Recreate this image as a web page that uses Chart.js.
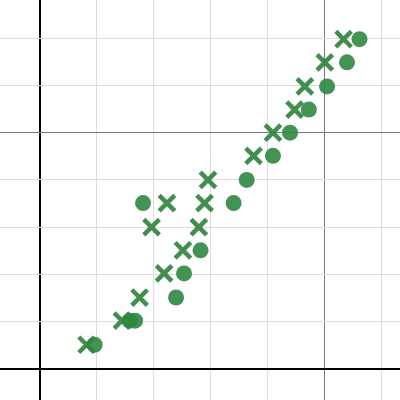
<!DOCTYPE html>
<html><head><meta charset="utf-8">
<script src="https://cdn.jsdelivr.net/npm/chart.js@4"></script>
<style>html,body{margin:0;padding:0;background:#fff}#w{width:400px;height:400px}</style>
</head><body><div id="w"><canvas id="c"></canvas></div>
<script>
const circleX=[0.96,1.58,1.67,1.81,2.39,2.53,2.82,3.40,3.63,4.09,4.39,4.72,5.04,5.39,5.61];
const circleY=[0.51,1.02,1.02,3.51,1.51,2.02,2.51,3.51,4.0,4.51,5.0,5.49,5.98,6.49,6.98];
const crossX=[0.82,1.44,1.75,1.96,2.23,2.18,2.51,2.79,2.89,2.95,3.75,4.09,4.47,4.65,5.0,5.33];
const crossY=[0.51,1.02,1.51,3.0,3.51,2.02,2.51,3.0,3.51,4.0,4.51,5.0,5.49,5.98,6.49,6.98];
const xTicks=[0,1,2,3,4,5,6];
const yTicks=[0,1,2,3,4,5,6,7];
const pts=(xs,ys)=>xs.map((x,i)=>({x,y:ys[i]}));
function gridColor(ctx){const v=ctx.tick&&ctx.tick.value;if(v===0)return '#000';if(v===5)return '#777';return '#ddd';}
function gridWidth(ctx){const v=ctx.tick&&ctx.tick.value;return v===0?2:1;}
new Chart(document.getElementById('c'),{type:'scatter',
data:{datasets:[
{data:pts(circleX,circleY),pointStyle:'circle',pointRadius:8,backgroundColor:'rgba(45,135,65,0.9)',borderWidth:0},
{data:pts(crossX,crossY),pointStyle:'crossRot',pointRadius:11,borderColor:'rgba(45,130,60,0.9)',borderWidth:4.5}
]},
options:{responsive:true,maintainAspectRatio:false,animation:false,layout:{padding:0,autoPadding:false},
plugins:{legend:{display:false},tooltip:{enabled:false}},
scales:{
x:{type:'linear',min:-0.70,max:6.32,afterBuildTicks:s=>{s.ticks=xTicks.map(v=>({value:v}));},ticks:{display:false},border:{display:false},grid:{drawTicks:false,color:gridColor,lineWidth:gridWidth}},
y:{type:'linear',min:-0.66,max:7.81,afterBuildTicks:s=>{s.ticks=yTicks.map(v=>({value:v}));},ticks:{display:false},border:{display:false},grid:{drawTicks:false,color:gridColor,lineWidth:gridWidth}}
}}});
</script></body></html>
